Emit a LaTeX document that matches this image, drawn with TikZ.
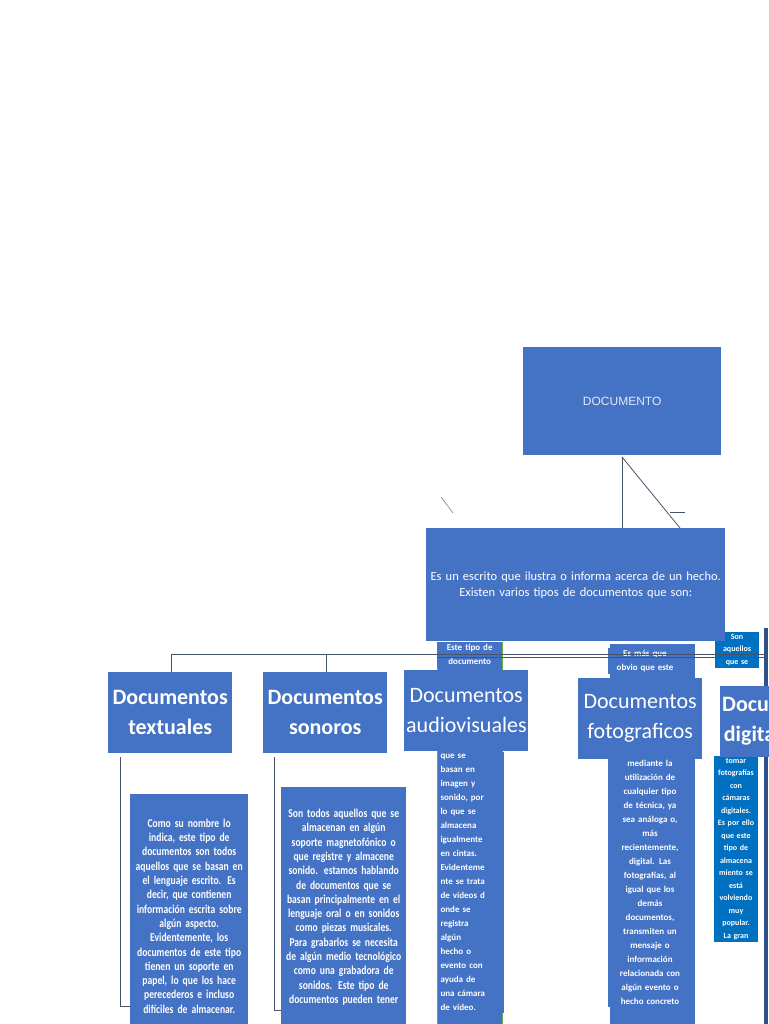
\documentclass[tikz,border=0pt]{standalone}
\usepackage{fontspec}
\setmainfont{Carlito}
\newfontfamily\headfont{Liberation Sans}
\newfontfamily\narrowfont[FakeStretch=0.8]{Carlito}
\usetikzlibrary{positioning}
\definecolor{boxcol}{HTML}{4472C4}
\definecolor{linecol}{HTML}{44546A}
\definecolor{hlcol}{HTML}{0070C0}
\definecolor{greencol}{HTML}{70AD47}
\tikzset{
  basic box/.style = {
    shape = rectangle,
    fill = boxcol,
    text = white,
    text centered,
    inner sep = 2pt,
    anchor = north west,
    },
  title box/.style = {
    basic box,
    font = \fontsize{22}{30}\selectfont\bfseries,
    text width = 120pt,
    minimum height = 81pt,
    },
  strip box/.style = {
    basic box,
    font = \fontsize{9}{14}\selectfont\bfseries,
    },
  text box/.style = {
    basic box,
    inner sep = 0pt,
    font = \narrowfont\fontsize{12}{14.3}\selectfont\bfseries,
    },
  link/.style = {linecol, thick},
}
\begin{document}
\begin{tikzpicture}[x=1pt,y=1pt]
  \useasboundingbox (0,0) rectangle (768,-1024);

  % strips behind
  \node[strip box, draw=greencol, text width=61pt, minimum height=385pt] (audstrip) at (437,-642) {};
  \node[strip box, anchor=north, text width=61pt] (audtop) at (audstrip.north) {Este tipo de\\ documento};
  \node[strip box, anchor=north, text width=61pt, align=left] (audtxt) at (471,-752) {que se\\ basan en\\ imagen y\\ sonido, por\\ lo que se\\ almacena\\ igualmente\\ en cintas.\\ Evidenteme\\ nte se trata\\ de vídeos d\\ onde se\\ registra\\ algún\\ hecho o\\ evento con\\ ayuda de\\ una cámara\\ de vídeo.};
  \node[strip box, text width=81pt, minimum height=382pt] (fotstrip) at (610,-644) {};
  \node[strip box, anchor=north, text width=70pt] (fottop) at (645,-648) {Es más que\\ obvio que este};
  \node[strip box, anchor=north, text width=81pt] (fottxt) at (650,-758) {mediante la\\ utilización de\\ cualquier tipo\\ de técnica, ya\\ sea análoga o,\\ más\\ recientemente,\\ digital. Las\\ fotografías, al\\ igual que los\\ demás\\ documentos,\\ transmiten un\\ mensaje o\\ información\\ relacionada con\\ algún evento o\\ hecho concreto};
  \node[strip box, fill=hlcol, anchor=north, text width=40pt, font=\fontsize{8}{12.5}\selectfont\bfseries] (digtop) at (737,-632) {Son\\ aquellos\\ que se};
  \node[strip box, fill=hlcol, anchor=north, text width=40pt, font=\fontsize{8}{12.5}\selectfont\bfseries] (digtxt) at (736,-756) {tomar\\ fotografías\\ con\\ cámaras\\ digitales.\\ Es por ello\\ que este\\ tipo de\\ almacena\\ miento se\\ está\\ volviendo\\ muy\\ popular.\\ La gran};
  \fill[boxcol!70!black] (764,-628) rectangle (768,-1024);

  % top
  \node[basic box, text width=194pt, minimum height=108pt, font=\headfont\fontsize{12}{14}\selectfont, text=white!85!boxcol] (doc) at (523,-347) {DOCUMENTO};
  \node[basic box, text width=295pt, minimum height=113pt, font=\fontsize{12.5}{16}\selectfont] (def) at (426,-528) {Es un escrito que ilustra o informa acerca de un hecho.\\ Existen varios tipos de documentos que son:};
  \draw[link] (622,-457) -- (622,-528);
  \draw[link] (622,-457) -- (680,-528);
  \draw[link] (670,-512) -- (685,-512);
  \draw[link, thin] (441,-497) -- (453,-513);

  % types
  \node[title box] (textual) at (108,-672) {Documentos\\ textuales};
  \node[title box] (sonoro) at (263,-672) {Documentos\\ sonoros};
  \node[title box, font=\fontsize{22}{30}\selectfont] (audio) at (404,-670) {Documentos\\ audiovisuales};
  \node[title box, font=\fontsize{22}{30}\selectfont] (foto) at (578,-678) {Documentos\\ fotograficos};
  \node[title box, text width=80pt, minimum height=71pt] (digital) at (720,-686) {Documentos\\ digitales};
  \draw[link] (171,-672) -- (171,-654) -- (768,-654);
  \draw[link, thin] (437,-657) -- (768,-657);
  \draw[link] (326,-654) -- (326,-672);

  % descriptions
  \node[text box, text width=118pt, minimum height=240pt, anchor=north west] (textdesc) at (130,-794) {\\[-2pt]Como su nombre lo\\ indica, este tipo de\\ documentos son todos\\ aquellos que se basan en\\ el lenguaje escrito. Es\\ decir, que contienen\\ información escrita sobre\\ algún aspecto.\\ Evidentemente, los\\ documentos de este tipo\\ tienen un soporte en\\ papel, lo que los hace\\ perecederos e incluso\\ difíciles de almacenar.};
  \node[text box, text width=125pt, minimum height=240pt] (sondesc) at (281,-787) {Son todos aquellos que se\\ almacenan en algún\\ soporte magnetofónico o\\ que registre y almacene\\ sonido. estamos hablando\\ de documentos que se\\ basan principalmente en el\\ lenguaje oral o en sonidos\\ como piezas musicales.\\ Para grabarlos se necesita\\ de algún medio tecnológico\\ como una grabadora de\\ sonidos. Este tipo de\\ documentos pueden tener};
  \draw[link, thin] (120,-757) -- (120,-1006) -- (textdesc.west |- 0,-1006);
  \draw[link, thin] (274,-757) -- (274,-1010) -- (sondesc.west |- 0,-1010);
\end{tikzpicture}
\end{document}
